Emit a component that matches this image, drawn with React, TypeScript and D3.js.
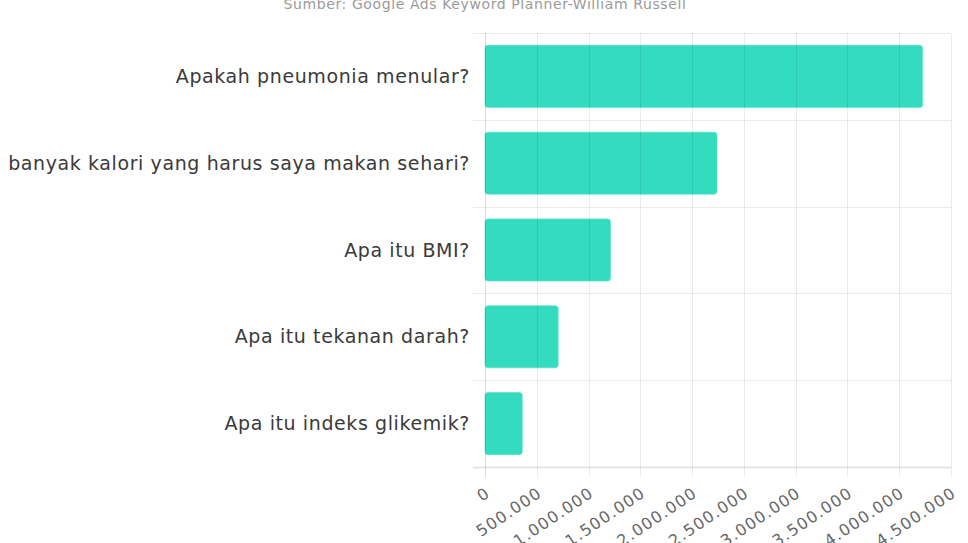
import { useEffect, useRef } from 'react';
import * as d3 from 'd3';

const categories = [
  'Apakah pneumonia menular?',
  'Berapa banyak kalori yang harus saya makan sehari?',
  'Apa itu BMI?',
  'Apa itu tekanan darah?',
  'Apa itu indeks glikemik?',
];
const searches = [4226000, 2240000, 1212000, 707000, 360000];
const xTicks = [0, 500000, 1000000, 1500000, 2000000, 2500000, 3000000, 3500000, 4000000, 4500000];
const source = 'Sumber: Google Ads Keyword Planner-William Russell';

const fmt = (v: number) => d3.format(',')(v).replace(/,/g, '.');

export default function App() {
  const svgRef = useRef<SVGSVGElement>(null);

  useEffect(() => {
    if (!svgRef.current) return;
    const W = 968;
    const H = 543;
    const margin = { top: 33, right: 17, bottom: 76, left: 485 };
    const font = '"DejaVu Sans", sans-serif';

    const svg = d3.select(svgRef.current);
    svg.selectAll('*').remove();

    const x = d3.scaleLinear().domain([0, 4500000]).range([margin.left, W - margin.right]);
    const y = d3.scaleBand<string>().domain(categories).range([margin.top, H - margin.bottom]).paddingInner(0.285).paddingOuter(0.1425);
    const step = y.step();
    const plotBottom = H - margin.bottom;

    svg.append('text')
      .attr('x', 485)
      .attr('y', 9)
      .attr('text-anchor', 'middle')
      .attr('font-family', font)
      .attr('font-size', 14)
      .attr('letter-spacing', 0.6)
      .attr('fill', '#9a9a9a')
      .text(source);

    // horizontal grid lines at band edges
    const edges = d3.range(categories.length + 1).map(i => margin.top + i * step);
    svg.append('g')
      .selectAll('line')
      .data(edges)
      .join('line')
      .attr('x1', margin.left - 12)
      .attr('x2', W - margin.right)
      .attr('y1', d => Math.round(d) + 0.5)
      .attr('y2', d => Math.round(d) + 0.5)
      .attr('stroke', (d, i) => (i === categories.length ? '#dedede' : '#ebebeb'))
      .attr('stroke-width', (d, i) => (i === categories.length ? 1.5 : 1));

    // bars
    svg.append('g')
      .selectAll('rect')
      .data(categories)
      .join('rect')
      .attr('x', x(0))
      .attr('y', d => y(d)!)
      .attr('width', (d, i) => x(searches[i]) - x(0))
      .attr('height', y.bandwidth())
      .attr('rx', 3)
      .attr('fill', 'rgba(0, 210, 175, 0.8)')
      .attr('stroke', 'rgba(80, 225, 200, 0.6)')
      .attr('stroke-width', 1);

    // vertical grid lines (drawn over bars, as in source)
    svg.append('g')
      .selectAll('line')
      .data(xTicks)
      .join('line')
      .attr('x1', d => Math.round(x(d)) + 0.5)
      .attr('x2', d => Math.round(x(d)) + 0.5)
      .attr('y1', margin.top)
      .attr('y2', plotBottom + 10)
      .attr('stroke', (d, i) => (i === 0 ? 'rgba(0,0,0,0.14)' : 'rgba(0,0,0,0.08)'))
      .attr('stroke-width', 1);

    // category labels
    svg.append('g')
      .selectAll('text')
      .data(categories)
      .join('text')
      .attr('x', margin.left - 15)
      .attr('y', d => y(d)! + y.bandwidth() / 2)
      .attr('dy', '0.35em')
      .attr('text-anchor', 'end')
      .attr('font-family', font)
      .attr('font-size', 19)
      .attr('letter-spacing', 0.6)
      .attr('fill', '#3a3a3a')
      .text(d => d);

    // x tick labels, rotated
    svg.append('g')
      .selectAll('text')
      .data(xTicks)
      .join('text')
      .attr('transform', d => `translate(${x(d) + 3},${plotBottom + 24}) rotate(-34)`)
      .attr('dy', '0.35em')
      .attr('text-anchor', 'end')
      .attr('font-family', font)
      .attr('font-size', 16)
      .attr('letter-spacing', 1.2)
      .attr('fill', '#666')
      .text(d => fmt(d));
  }, []);

  return (
    <svg
      ref={svgRef}
      width={968}
      height={543}
      style={{ position: 'absolute', left: 0, top: 0, background: '#fff' }}
    />
  );
}
